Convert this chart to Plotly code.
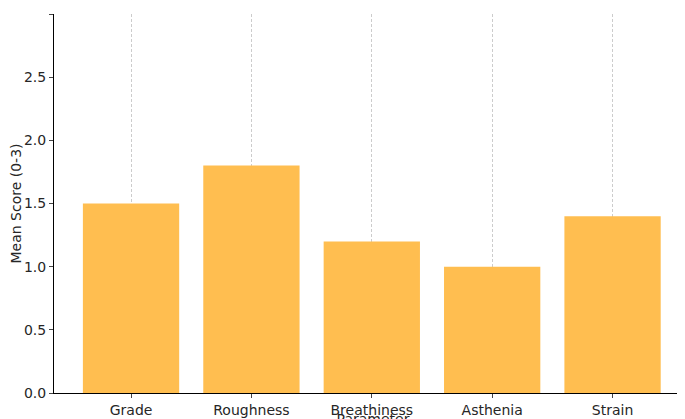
import plotly.graph_objects as go

categories = ["Grade", "Roughness", "Breathiness", "Asthenia", "Strain"]
values = [1.5, 1.8, 1.2, 1.0, 1.4]

fig = go.Figure(go.Bar(x=list(range(len(categories))), y=values, width=0.8,
                       marker=dict(color="rgb(255,190,80)", line=dict(width=0))))
fig.update_layout(
    width=685, height=419, margin=dict(l=46, r=1, t=6, b=34, autoexpand=False),
    plot_bgcolor="white", paper_bgcolor="white",
    font=dict(family="DejaVu Sans", size=14, color="#262626"),
    showlegend=False,
)
fig.update_xaxes(range=[-0.64, 4.66], tickmode="array", tickvals=list(range(len(categories))),
                 ticktext=categories, showgrid=True, gridcolor="#cccccc", griddash="3px,2px",
                 gridwidth=0.8, showline=True, linecolor="black", ticks="outside",
                 ticklen=4, automargin=False,
                 title=dict(text="Parameter", standoff=4, font=dict(size=14)), zeroline=False)
fig.update_yaxes(range=[0, 3.0001], tickvals=[0, 0.5, 1, 1.5, 2, 2.5, 3], tickformat=".1f",
                 showgrid=False, automargin=False,
                 showline=True, linecolor="black", ticks="outside", ticklen=4,
                 title=dict(text="Mean Score (0-3)", standoff=4, font=dict(size=14)), zeroline=False)
fig.write_html("out.html")
